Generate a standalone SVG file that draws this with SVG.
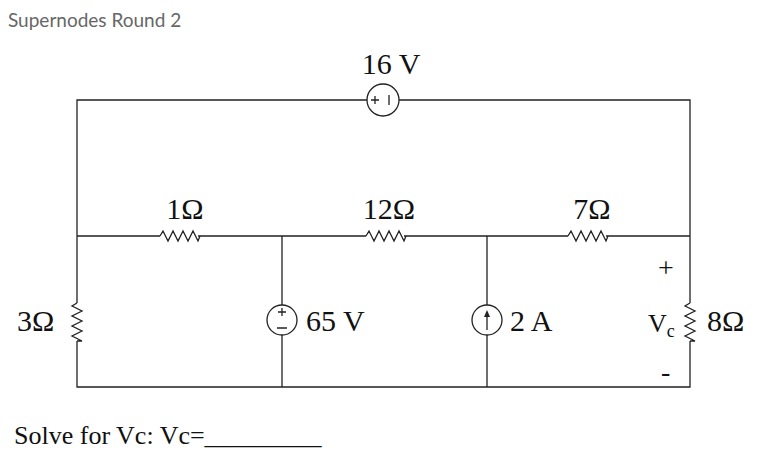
<svg xmlns="http://www.w3.org/2000/svg" width="762" height="462" viewBox="0 0 762 462">
<style>
.w{stroke:#222;stroke-width:1.3;fill:none}
.t{font-family:"Liberation Serif",serif;fill:#111}
</style>
<rect width="762" height="462" fill="#fff"/>
<text x="8" y="27" font-family="Lato,sans-serif" font-size="19" fill="#666">Supernodes Round 2</text>
<g id="connectors">
<path class="w" d="M77 236V100H367M399 100H690V236M77 236H160M198 236H366M404 236H568M606 236H690V303M690 341V387H77V341M77 303V236"/>
<path class="w" d="M282 236V305M282 335V387M487 236V305M487 335V387"/>
</g>
<g id="v16"><circle class="w" cx="383" cy="100" r="16"/><path class="w" d="M371 100h8M375 96v8M389 95v10"/><text class="t" x="391" y="74" font-size="30" text-anchor="middle">16 V</text></g>
<g id="r1"><path class="w" d="M160 236l3 -5l5 10l5 -10l5 10l5 -10l5 10l5 -10l5 10l2 -5"/><text class="t" x="185" y="219" font-size="30" text-anchor="middle">1Ω</text></g>
<g id="r12"><path class="w" d="M366 236l3 -5l5 10l5 -10l5 10l5 -10l5 10l5 -10l5 10l2 -5"/><text class="t" x="389" y="219" font-size="30" text-anchor="middle">12Ω</text></g>
<g id="r7"><path class="w" d="M568 236l3 -5l5 10l5 -10l5 10l5 -10l5 10l5 -10l5 10l2 -5"/><text class="t" x="592" y="219" font-size="30" text-anchor="middle">7Ω</text></g>
<g id="r3"><path class="w" d="M77 303l-5 3l10 5l-10 5l10 5l-10 5l10 5l-10 5l10 5l-5 0"/><text class="t" x="17" y="331" font-size="30">3Ω</text></g>
<g id="r8"><path class="w" d="M690 303l-5 3l10 5l-10 5l10 5l-10 5l10 5l-10 5l10 5l-5 0"/><text class="t" x="707" y="331" font-size="30">8Ω</text>
<text class="t" x="666" y="277" font-size="28" text-anchor="middle">+</text>
<text class="t" x="648" y="332" font-size="26">V<tspan font-size="18" dy="5">c</tspan></text>
<text class="t" x="661" y="381" font-size="28">-</text></g>
<g id="v65"><circle class="w" cx="282" cy="320" r="15"/><path class="w" d="M278 312h8M282 308v8M277 328h10"/><text class="t" x="306" y="331" font-size="30">65 V</text></g>
<g id="i2"><circle class="w" cx="487" cy="320" r="15"/><path class="w" d="M487 330V314"/><path d="M487 310l-3 7h6z" fill="#222"/><text class="t" x="510" y="331" font-size="30">2 A</text></g>
<text class="t" x="14" y="444" font-size="26">Solve for Vc: Vc=_________</text>
</svg>
